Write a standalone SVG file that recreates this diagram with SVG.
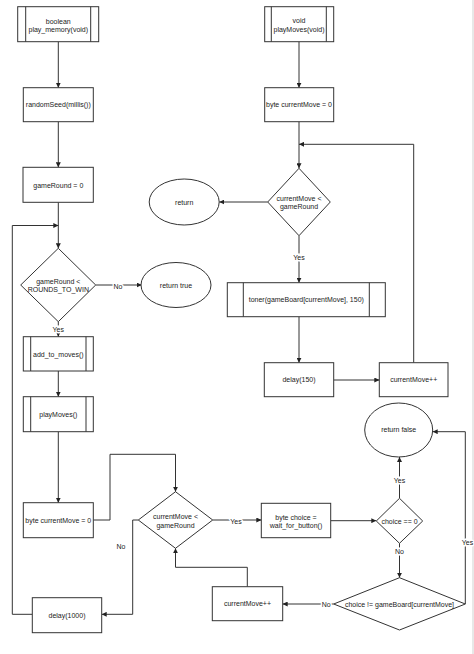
<svg xmlns="http://www.w3.org/2000/svg" width="474" height="654" viewBox="0 0 474 654">
<defs>
<marker id="arr" viewBox="0 0 6 6" refX="6" refY="3" markerWidth="5" markerHeight="5" markerUnits="userSpaceOnUse" orient="auto">
<path d="M0,0 L6,3 L0,6 z" fill="#222"/>
</marker>
</defs>
<style>
.s{fill:#fff;stroke:#333;stroke-width:1}
.l{fill:none;stroke:#333;stroke-width:1}
.c{fill:none;stroke:#333;stroke-width:1;marker-end:url(#arr)}
text{font-family:"Liberation Sans",Arial,sans-serif;font-size:7px;fill:#222;text-anchor:middle;dominant-baseline:central}
.lab{stroke:#fff;stroke-width:3;paint-order:stroke}
</style>
<rect x="0" y="0" width="474" height="654" fill="#fff"/>
<rect x="472" y="0" width="2" height="654" fill="#e8e8e8"/>

<g id="connectors">
<path class="c" d="M58.3,41.7 V87.7"/>
<path class="c" d="M58.3,121.7 V167.3"/>
<path class="c" d="M58.3,202.3 V248.3"/>
<path class="c" d="M32.3,614.3 H12.3 V225.5 H58.3"/>
<path class="c" d="M95.7,285 H141.7"/>
<text class="lab" x="118" y="286.5">No</text>
<path class="c" d="M58.3,321.7 V336.7"/>
<text class="lab" x="58.3" y="329.3">Yes</text>
<path class="c" d="M58.3,371 V396.7"/>
<path class="c" d="M58.3,431.7 V502.7"/>
<path class="c" d="M93.3,520 H110 V454.3 H175.5 V491.7"/>
<path class="c" d="M212.7,520 H261.3"/>
<text class="lab" x="236" y="521.5">Yes</text>
<path class="c" d="M138.3,520 H132.7 V614.3 H101.7"/>
<text x="121" y="546.7">No</text>
<path class="c" d="M247.3,586.7 V567.3 H175.5 V548.3"/>

<path class="c" d="M299,41.7 V87.7"/>
<path class="c" d="M299,121.7 V168.3"/>
<path class="c" d="M413.7,362.7 V144.3 H299"/>
<path class="c" d="M267.7,202 H219.3"/>
<path class="c" d="M299,235.7 V282.7"/>
<text class="lab" x="299" y="257.7">Yes</text>
<path class="c" d="M299,316.7 V362.7"/>
<path class="c" d="M333.7,380 H379.3"/>

<path class="c" d="M330.7,520.7 H376.3"/>
<path class="c" d="M399.5,498.3 V457"/>
<text class="lab" x="399.5" y="480">Yes</text>
<path class="c" d="M399.5,543.3 V577.7"/>
<text class="lab" x="399.5" y="551.7">No</text>
<path class="c" d="M465.3,604 V431.7 H432.7"/>
<text class="lab" x="467.5" y="542.7">Yes</text>
<path class="c" d="M333.7,604 H282.7"/>
<text class="lab" x="326.3" y="604">No</text>
</g>

<g id="play_memory">
<rect class="s" x="17.7" y="6.7" width="81" height="35"/>
<path class="l" d="M25.7,6.7 V41.7 M90.7,6.7 V41.7"/>
<text x="58.3" y="21">boolean</text>
<text x="58.3" y="29.3">play_memory(void)</text>
</g>
<g id="randomSeed">
<rect class="s" x="23.3" y="87.7" width="70" height="34"/>
<text x="58.3" y="104.7">randomSeed(millis())</text>
</g>
<g id="gameRound0">
<rect class="s" x="23" y="167.3" width="70.3" height="35"/>
<text x="58.3" y="185">gameRound = 0</text>
</g>
<g id="gameRoundCheck">
<polygon class="s" points="58.3,248.3 95.7,285 58.3,321.7 20.7,285"/>
<text x="58.3" y="281">gameRound &lt;</text>
<text x="58.3" y="289.3">ROUNDS_TO_WIN</text>
</g>
<g id="returnTrue">
<ellipse class="s" cx="176" cy="285" rx="35" ry="22.5"/>
<text x="176" y="285">return true</text>
</g>
<g id="addToMoves">
<rect class="s" x="23.3" y="336.7" width="70" height="34.3"/>
<path class="l" d="M30.7,336.7 V371 M86,336.7 V371"/>
<text x="58.3" y="354">add_to_moves()</text>
</g>
<g id="playMovesCall">
<rect class="s" x="23.3" y="396.7" width="70" height="35"/>
<path class="l" d="M30.7,396.7 V431.7 M86,396.7 V431.7"/>
<text x="58.3" y="414">playMoves()</text>
</g>
<g id="byteCurrentMoveL">
<rect class="s" x="23.3" y="502.7" width="70" height="35"/>
<text x="58.3" y="520">byte currentMove = 0</text>
</g>
<g id="currentMoveCheckL">
<polygon class="s" points="175.5,491.7 212.7,520 175.5,548.3 138.3,520"/>
<text x="175.5" y="516.7">currentMove &lt;</text>
<text x="175.5" y="525">gameRound</text>
</g>
<g id="delay1000">
<rect class="s" x="32.3" y="597.7" width="69.4" height="35"/>
<text x="67" y="615">delay(1000)</text>
</g>
<g id="byteChoice">
<rect class="s" x="261.3" y="503.3" width="69.4" height="34.4"/>
<text x="296" y="517.3">byte choice =</text>
<text x="296" y="525.7">wait_for_button()</text>
</g>
<g id="choiceZero">
<polygon class="s" points="399.5,498.3 422.7,521 399.5,543.3 376.3,521"/>
<text x="399.5" y="521">choice == 0</text>
</g>
<g id="returnFalse">
<ellipse class="s" cx="398.7" cy="430" rx="34" ry="27"/>
<text x="398.7" y="429">return false</text>
</g>
<g id="choiceNeq">
<polygon class="s" points="399.5,577.7 465.3,604 399.5,630 333.7,604"/>
<text x="399.5" y="604">choice != gameBoard[currentMove]</text>
</g>
<g id="currentMoveIncL">
<rect class="s" x="212.3" y="586.7" width="70.4" height="34"/>
<text x="247.5" y="603.7">currentMove++</text>
</g>

<g id="playMovesDef">
<rect class="s" x="264.7" y="6.7" width="69" height="35"/>
<path class="l" d="M271.3,6.7 V41.7 M326.3,6.7 V41.7"/>
<text x="299" y="20.7">void</text>
<text x="299" y="29">playMoves(void)</text>
</g>
<g id="byteCurrentMoveR">
<rect class="s" x="264.7" y="87.7" width="69" height="34"/>
<text x="299" y="104.7">byte currentMove = 0</text>
</g>
<g id="currentMoveCheckR">
<polygon class="s" points="299,168.3 330.3,202 299,235.7 267.7,202"/>
<text x="299" y="198.3">currentMove &lt;</text>
<text x="299" y="206.7">gameRound</text>
</g>
<g id="return">
<ellipse class="s" cx="184.2" cy="202" rx="35" ry="23"/>
<text x="184.2" y="202">return</text>
</g>
<g id="toner">
<rect class="s" x="227.3" y="282.7" width="158" height="34"/>
<path class="l" d="M243.3,282.7 V316.7 M369.3,282.7 V316.7"/>
<text x="306.3" y="299.7">toner(gameBoard[currentMove], 150)</text>
</g>
<g id="delay150">
<rect class="s" x="264.3" y="362.7" width="69.4" height="34"/>
<text x="299" y="379.7">delay(150)</text>
</g>
<g id="currentMoveIncR">
<rect class="s" x="379.3" y="362.7" width="68.7" height="34"/>
<text x="413.7" y="379.7">currentMove++</text>
</g>
</svg>
